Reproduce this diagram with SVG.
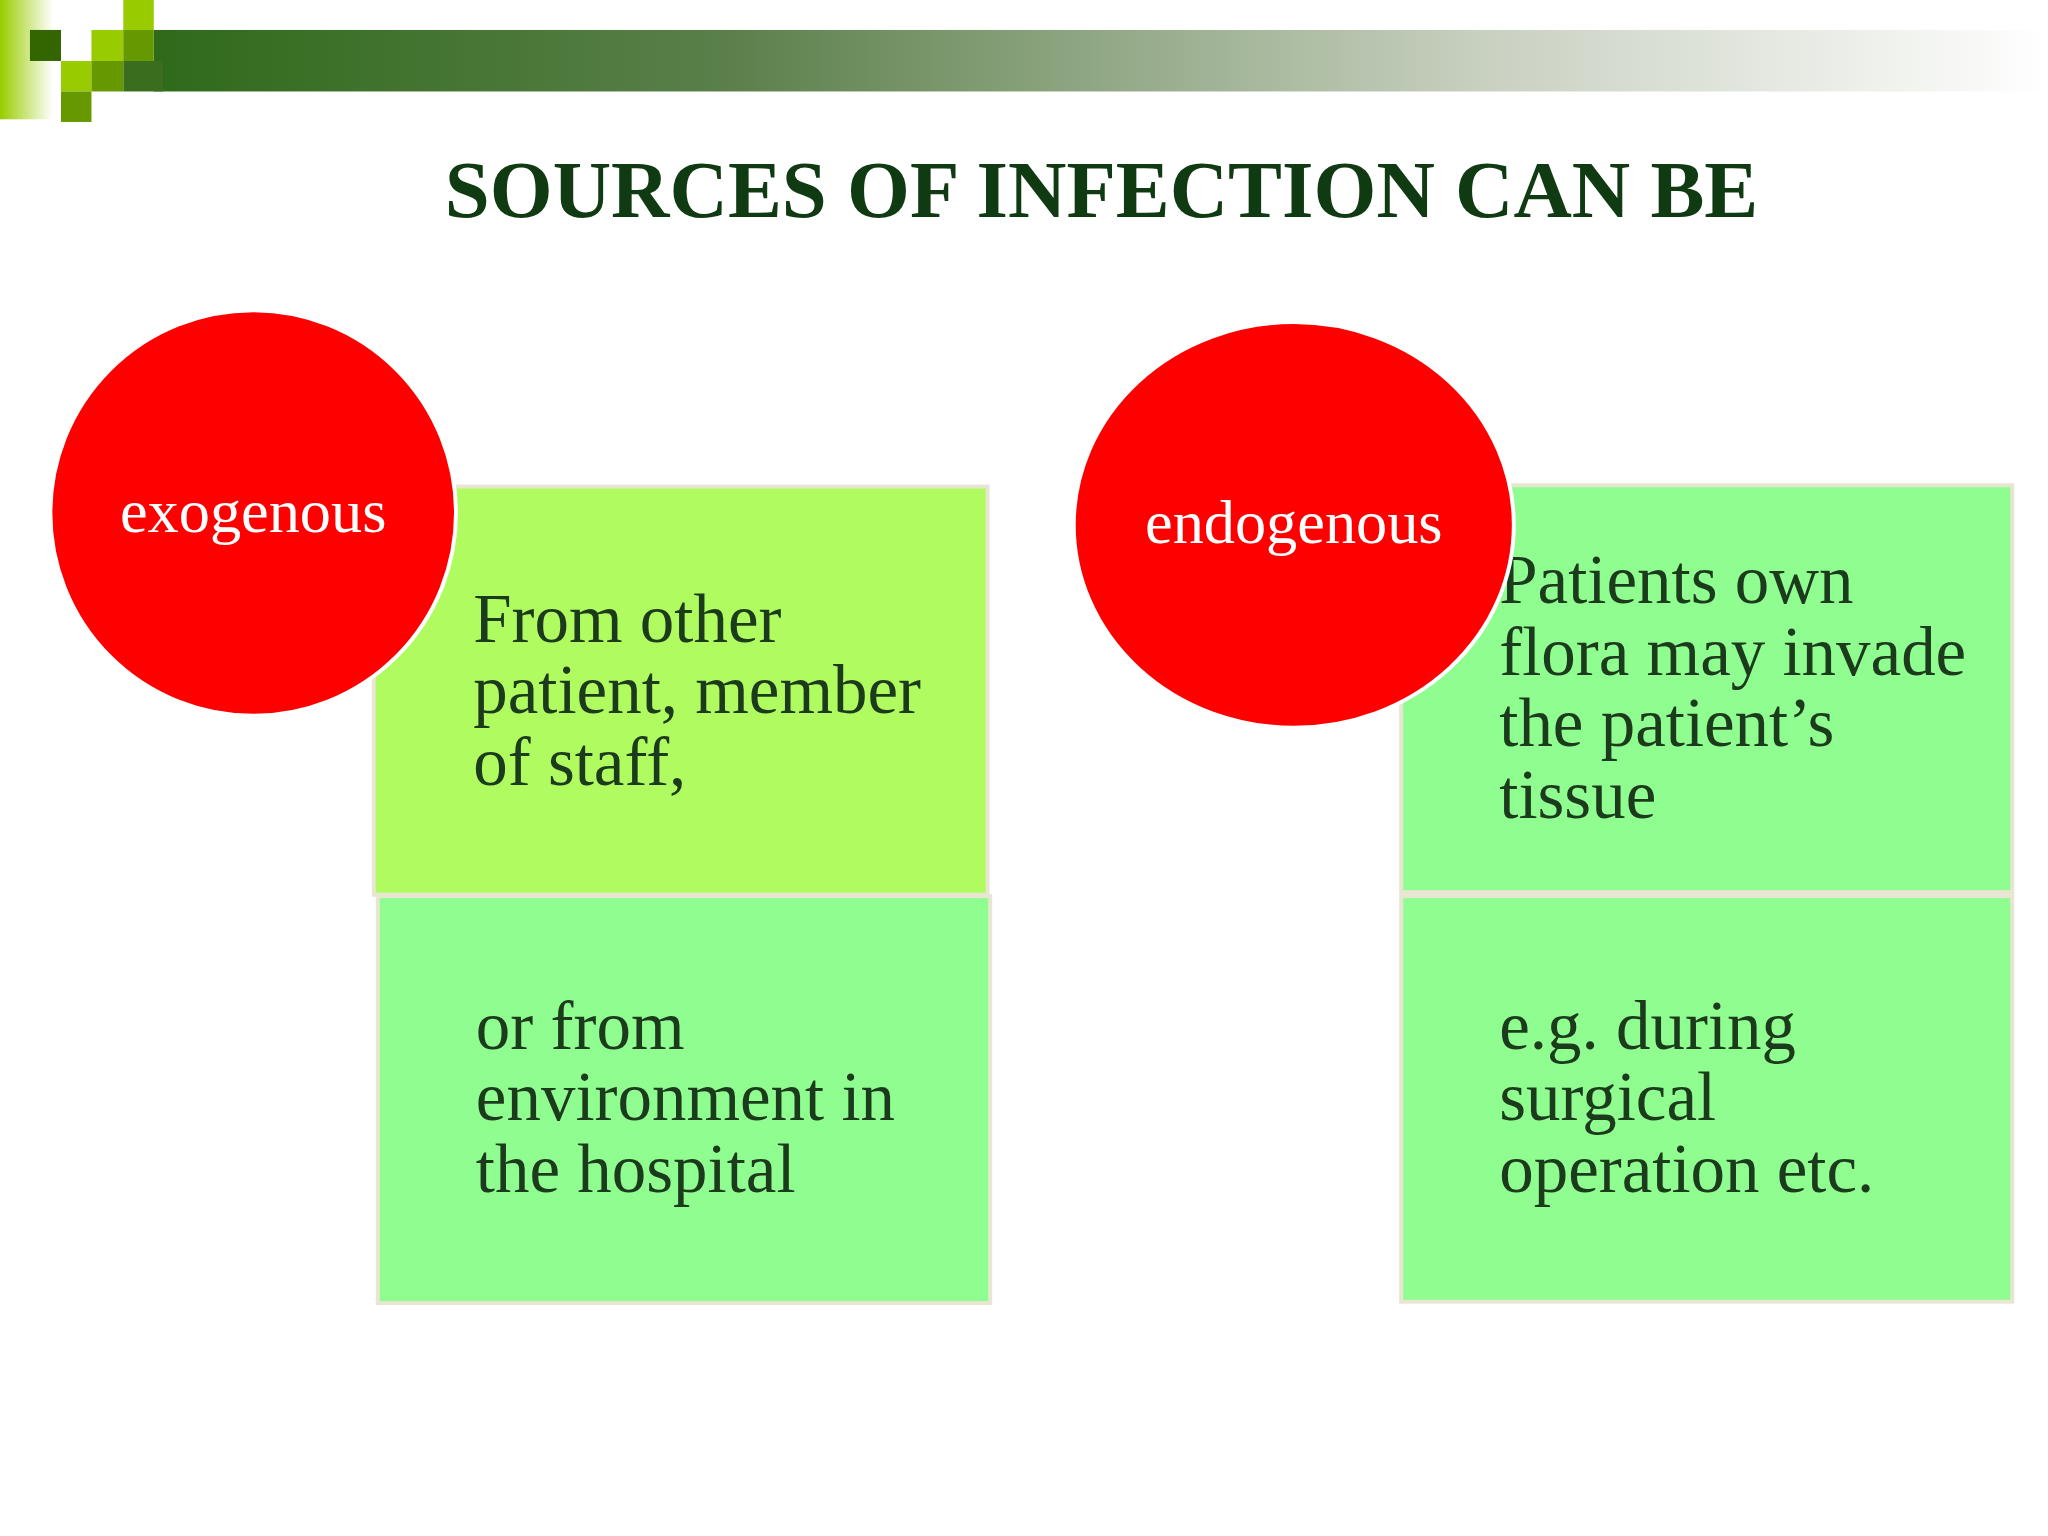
<svg xmlns="http://www.w3.org/2000/svg" width="2048" height="1536" viewBox="0 0 2048 1536">
<defs>
<linearGradient id="bar" x1="0" x2="1" y1="0" y2="0"><stop offset="0" stop-color="#2f6a1a"/><stop offset="0.3" stop-color="#5a7f4a"/><stop offset="0.7" stop-color="#c8d0c0"/><stop offset="1" stop-color="#ffffff"/></linearGradient>
<linearGradient id="strip" x1="0" x2="1" y1="0" y2="0"><stop offset="0" stop-color="#99cc00"/><stop offset="1" stop-color="#ffffff"/></linearGradient>
<style>
.box{stroke:#e8e6d2;stroke-width:3}
.t{font-family:"Liberation Serif",serif;font-size:52px;fill:#1c3a1c}
.c{font-family:"Liberation Serif",serif;font-size:47px;fill:#fff;text-anchor:middle}
.circ{fill:#ff0000;stroke:#fff;stroke-width:3}
</style>
</defs>
<rect width="2048" height="1536" fill="#fff"/>
<g transform="scale(1.3256)">
<g id="header">
<rect x="0" y="0" width="40" height="90" fill="url(#strip)"/>
<rect x="116" y="22.6" width="1429" height="46.4" fill="url(#bar)"/>
<rect x="93" y="46" width="30" height="23" fill="#3a6e1e"/>
<rect x="22.6" y="22.6" width="23.4" height="23.4" fill="#336600"/>
<rect x="93" y="0" width="23" height="22.6" fill="#99cc00"/>
<rect x="69" y="22.6" width="24" height="23.4" fill="#99cc00"/>
<rect x="93" y="22.6" width="23" height="23.4" fill="#669900"/>
<rect x="46" y="46" width="23" height="23" fill="#99cc00"/>
<rect x="69" y="46" width="24" height="23" fill="#669900"/>
<rect x="46" y="69" width="23" height="23" fill="#669900"/>
</g>
<text x="831" y="164" text-anchor="middle" font-family="Liberation Serif,serif" font-weight="bold" font-size="61" fill="#0f3a12">SOURCES OF INFECTION CAN BE</text>
<g id="exo-top"><rect class="box" x="282" y="367" width="463" height="308" fill="#b0fc60"/>
<text class="t"><tspan x="357" y="484">From other</tspan><tspan x="357" y="538">patient, member</tspan><tspan x="357" y="592">of staff,</tspan></text></g>
<g id="exo-bottom"><rect class="box" x="285" y="676" width="462" height="307" fill="#8ffd8f"/>
<text class="t"><tspan x="359" y="791">or from</tspan><tspan x="359" y="845">environment in</tspan><tspan x="359" y="899">the hospital</tspan></text></g>
<g id="endo-top"><rect class="box" x="1057" y="366" width="461" height="307" fill="#8ffd8f"/>
<text class="t"><tspan x="1131" y="455">Patients own</tspan><tspan x="1131" y="509">flora may invade</tspan><tspan x="1131" y="563">the patient’s</tspan><tspan x="1131" y="617">tissue</tspan></text></g>
<g id="endo-bottom"><rect class="box" x="1057" y="676" width="461" height="306" fill="#8ffd8f"/>
<text class="t"><tspan x="1131" y="791">e.g. during</tspan><tspan x="1131" y="845">surgical</tspan><tspan x="1131" y="899">operation etc.</tspan></text></g>
<g id="exogenous"><circle class="circ" cx="191" cy="387" r="153"/><text class="c" x="191" y="401">exogenous</text></g>
<g id="endogenous"><ellipse class="circ" cx="976" cy="396" rx="166" ry="153"/><text class="c" x="976" y="410">endogenous</text></g>
</g>
</svg>
